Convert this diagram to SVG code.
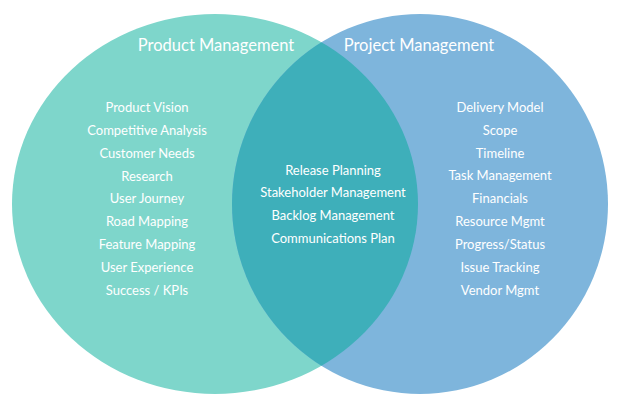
<svg xmlns="http://www.w3.org/2000/svg" width="624" height="413" viewBox="0 0 624 413">
  <style>
    text { font-family: Lato, "Open Sans", "Liberation Sans", sans-serif; fill: #ffffff; text-anchor: middle; }
    .title { font-size: 16.5px; }
    .item { font-size: 13px; }
  </style>
  <defs>
    <clipPath id="leftClip">
      <ellipse cx="215" cy="204" rx="203" ry="190"/>
    </clipPath>
  </defs>
  <rect width="624" height="413" fill="#ffffff"/>
  <g id="product-management">
    <ellipse cx="215" cy="204" rx="203" ry="190" fill="#7ED6CB"/>
  </g>
  <g id="project-management">
    <ellipse cx="420" cy="204" rx="188" ry="190" fill="#7EB5DC"/>
  </g>
  <g id="overlap">
    <ellipse cx="420" cy="204" rx="188" ry="190" fill="#3EAFBA" clip-path="url(#leftClip)"/>
  </g>
  <g id="product-texts">
    <text class="title" x="216" y="51">Product Management</text>
    <text class="item" x="147" y="111.5">Product Vision</text>
    <text class="item" x="147" y="134.5">Competitive Analysis</text>
    <text class="item" x="147" y="157.5">Customer Needs</text>
    <text class="item" x="147" y="180.5">Research</text>
    <text class="item" x="147" y="203">User Journey</text>
    <text class="item" x="147" y="226">Road Mapping</text>
    <text class="item" x="147" y="249">Feature Mapping</text>
    <text class="item" x="147" y="272">User Experience</text>
    <text class="item" x="147" y="294.5">Success / KPIs</text>
  </g>
  <g id="shared-texts">
    <text class="item" x="333" y="174.5">Release Planning</text>
    <text class="item" x="333" y="197">Stakeholder Management</text>
    <text class="item" x="333" y="220">Backlog Management</text>
    <text class="item" x="333" y="243">Communications Plan</text>
  </g>
  <g id="project-texts">
    <text class="title" x="419" y="51">Project Management</text>
    <text class="item" x="500" y="111.5">Delivery Model</text>
    <text class="item" x="500" y="134.5">Scope</text>
    <text class="item" x="500" y="157.5">Timeline</text>
    <text class="item" x="500" y="180">Task Management</text>
    <text class="item" x="500" y="203">Financials</text>
    <text class="item" x="500" y="226">Resource Mgmt</text>
    <text class="item" x="500" y="249">Progress/Status</text>
    <text class="item" x="500" y="271.5">Issue Tracking</text>
    <text class="item" x="500" y="294.5">Vendor Mgmt</text>
  </g>
</svg>
